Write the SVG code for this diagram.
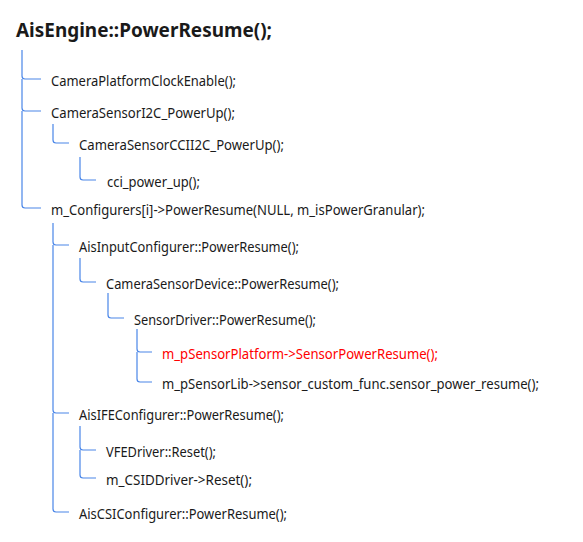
<svg xmlns="http://www.w3.org/2000/svg" width="583" height="542" viewBox="0 0 583 542">
<style>
.t{font-family:"Noto Sans","Liberation Sans",sans-serif;font-size:14px;fill:#1a1a1a}
.r{fill:#ff0000}
.h{font-family:"Noto Sans","Liberation Sans",sans-serif;font-size:19px;font-weight:bold;fill:#1a1a1a}
.c{fill:none;stroke:#4a86e8;stroke-width:1.2}
</style>
<rect width="583" height="542" fill="#ffffff"/>
<g id="connectors">
<path class="c" d="M22 50 V76 Q22 79 25 79 H41 M22 79 V108 Q22 111 25 111 H41 M22 111 V205 Q22 208 25 208 H41"/>
<path class="c" d="M53 124 V140 Q53 143 56 143 H69"/>
<path class="c" d="M80 157 V177 Q80 180 83 180 H96"/>
<path class="c" d="M53 223 V242 Q53 245 56 245 H69 M53 245 V410 Q53 413 56 413 H69 M53 413 V509 Q53 512 56 512 H69"/>
<path class="c" d="M80 258 V279 Q80 282 83 282 H96"/>
<path class="c" d="M108 293 V315 Q108 318 111 318 H124"/>
<path class="c" d="M137 329 V349 Q137 352 140 352 H152 M137 352 V379 Q137 382 140 382 H152"/>
<path class="c" d="M80 426 V447 Q80 450 83 450 H96 M80 450 V475 Q80 478 83 478 H96"/>
</g>
<g id="root"><text class="h" x="16" y="37" textLength="256" lengthAdjust="spacingAndGlyphs">AisEngine::PowerResume();</text></g>
<g id="n1"><text class="t" x="51" y="86" textLength="185" lengthAdjust="spacingAndGlyphs">CameraPlatformClockEnable();</text></g>
<g id="n2"><text class="t" x="51" y="118" textLength="184" lengthAdjust="spacingAndGlyphs">CameraSensorI2C_PowerUp();</text></g>
<g id="n3"><text class="t" x="79" y="150" textLength="205" lengthAdjust="spacingAndGlyphs">CameraSensorCCII2C_PowerUp();</text></g>
<g id="n4"><text class="t" x="107" y="187" textLength="93" lengthAdjust="spacingAndGlyphs">cci_power_up();</text></g>
<g id="n5"><text class="t" x="51" y="215" textLength="374" lengthAdjust="spacingAndGlyphs">m_Configurers[i]-&gt;PowerResume(NULL, m_isPowerGranular);</text></g>
<g id="n6"><text class="t" x="79" y="252" textLength="220" lengthAdjust="spacingAndGlyphs">AisInputConfigurer::PowerResume();</text></g>
<g id="n7"><text class="t" x="106" y="289" textLength="233" lengthAdjust="spacingAndGlyphs">CameraSensorDevice::PowerResume();</text></g>
<g id="n8"><text class="t" x="134" y="325" textLength="182" lengthAdjust="spacingAndGlyphs">SensorDriver::PowerResume();</text></g>
<g id="n9"><text class="t r" x="162" y="359" textLength="276" lengthAdjust="spacingAndGlyphs">m_pSensorPlatform-&gt;SensorPowerResume();</text></g>
<g id="n10"><text class="t" x="162" y="389" textLength="377" lengthAdjust="spacingAndGlyphs">m_pSensorLib-&gt;sensor_custom_func.sensor_power_resume();</text></g>
<g id="n11"><text class="t" x="79" y="420" textLength="205" lengthAdjust="spacingAndGlyphs">AisIFEConfigurer::PowerResume();</text></g>
<g id="n12"><text class="t" x="106" y="457" textLength="110" lengthAdjust="spacingAndGlyphs">VFEDriver::Reset();</text></g>
<g id="n13"><text class="t" x="106" y="485" textLength="146" lengthAdjust="spacingAndGlyphs">m_CSIDDriver-&gt;Reset();</text></g>
<g id="n14"><text class="t" x="79" y="519" textLength="208" lengthAdjust="spacingAndGlyphs">AisCSIConfigurer::PowerResume();</text></g>
</svg>
